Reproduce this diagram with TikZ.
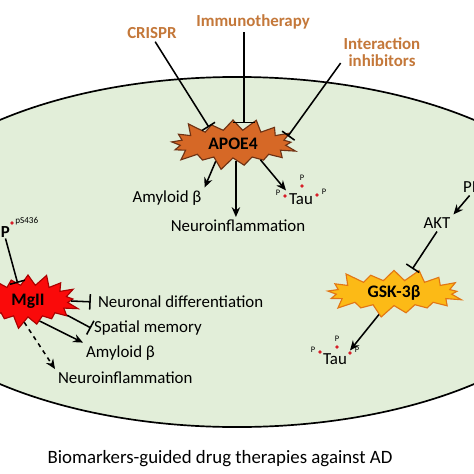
\documentclass[tikz,border=0pt]{standalone}
\usepackage{fontspec}
\setmainfont{Carlito}
\usetikzlibrary{positioning,shapes.symbols,arrows.meta}

\definecolor{cellgreen}{RGB}{226,238,217}
\definecolor{drugbrown}{RGB}{196,120,58}
\definecolor{apoeorange}{RGB}{214,104,38}
\definecolor{apoeline}{RGB}{110,50,20}
\definecolor{mgred}{RGB}{250,10,10}
\definecolor{mgline}{RGB}{170,0,0}
\definecolor{gskyellow}{RGB}{252,186,22}
\definecolor{gskline}{RGB}{226,118,20}
\definecolor{dotred}{RGB}{215,30,40}

\begin{document}
\begin{tikzpicture}[x=0.025cm, y=-0.025cm, >=Stealth,
    lbl/.style={font=\fontsize{12}{14}\selectfont, inner sep=2pt},
    drug/.style={font=\fontsize{12}{14}\selectfont\bfseries, text=drugbrown, align=center, inner sep=2pt},
    burst/.style={starburst, starburst point height=10pt, line width=0.8pt, inner sep=1pt,
        font=\fontsize{12.5}{14}\selectfont\bfseries},
    act/.style={-{Stealth[length=7pt,width=6pt]}, line width=1.1pt},
    inh/.style={-{Bar[width=11pt]}, line width=1.1pt},
    pdot/.style={circle, fill=dotred, inner sep=0pt, minimum size=2.6pt},
    ptxt/.style={font=\fontsize{6}{6}\selectfont, inner sep=0pt}]
% Marco y membrana
\path[use as bounding box] (0,0) rectangle (474,474);
\fill[white] (0,0) rectangle (474,474);
\clip (0,0) rectangle (474,474);
\draw[line width=1.2pt, fill=cellgreen] (237,252) ellipse [x radius=9.025cm, y radius=4.375cm];

% Terapias
\node (crispr) [drug] at (152,33) {CRISPR};
\node (immuno) [drug] at (253,22) {Immunotherapy};
\node (inter) [drug] at (382,52) {Interaction\\[-2pt]inhibitors};

% Focos
\node (apoe) [burst, fill=apoeorange, draw=apoeline, minimum width=3.35cm, minimum height=1.4cm] at (233,144) {APOE4};
\node (mgii) [burst, fill=mgred, draw=mgline, minimum width=2.7cm, minimum height=1.5cm] at (28,301) {MgII};
\node (gsk) [burst, fill=gskyellow, draw=gskline, minimum width=3.6cm, minimum height=1.3cm] at (394,293) {GSK-3β};

% Salidas de APOE4
\node (amy1) [lbl] at (167,198) {Amyloid β};
\node (neuro1) [lbl] at (238,226) {Neuroinflammation};
\node (tau1) [lbl] at (301,199) {Tau};
\node (tau1l) [pdot] at (285,196) {};
\node (tau1t) [pdot] at (302,186) {};
\node (tau1r) [pdot] at (317,195) {};
\node [ptxt] at (278,193) {P};
\node [ptxt] at (302,178) {P};
\node [ptxt] at (324,192) {P};

% Rama MgII
\node (pp) [lbl, font=\fontsize{12}{14}\selectfont\bfseries, anchor=west, inner sep=0.5pt] at (0,232) {P};
\node (ppdot) [pdot] at (12,223) {};
\node (pplbl) [ptxt, font=\fontsize{6.5}{7}\selectfont, anchor=west] at (15,221) {pS436};
\node (ndiff) [lbl, anchor=west] at (95,302) {Neuronal differentiation};
\node (spatial) [lbl, anchor=west] at (91,328) {Spatial memory};
\node (amy2) [lbl, anchor=west] at (83,353) {Amyloid β};
\node (neuro2) [lbl, anchor=west] at (55,378) {Neuroinflammation};

% Rama GSK-3b
\node (pi) [lbl, anchor=west] at (460,187) {PI};
\node (akt) [lbl] at (437,223) {AKT};
\node (tau2) [lbl] at (335,359) {Tau};
\node (tau2l) [pdot] at (320,352) {};
\node (tau2t) [pdot] at (337,347) {};
\node (tau2r) [pdot] at (350,353) {};
\node [ptxt] at (313,350) {P};
\node [ptxt] at (337,339) {P};
\node [ptxt] at (357,350) {P};

\node (caption) [lbl, font=\fontsize{13.4}{15}\selectfont] at (220,459) {Biomarkers-guided drug therapies against AD};

% Inhibiciones sobre APOE4
\draw [inh] (crispr.-70) -- (apoe.145);
\draw [inh, -{Bar[width=15pt]}, shorten >=-3pt] ([xshift=-0.225cm]immuno.south) -- ([xshift=-0.225cm]immuno.south |- apoe.north);
\draw [inh] (inter.195) -- (apoe.8);

% Efectos de APOE4
\draw [act] (apoe.-135) -- (amy1.north east);
\draw [act] (apoe.-80) -- (apoe.-80 |- neuro1.north);
\draw [act] (apoe.-30) -- (tau1.north west);

% MgII
\draw [inh] (pp.south) -- (mgii.120);
\draw [inh, shorten >=3pt] (mgii.east) -- (ndiff.west);
\draw [inh] (mgii.-20) -- (spatial.west);
\draw [act] (mgii.-60) -- (amy2.north west);
\draw [act, dashed] (mgii.-100) -- (neuro2.north west);

% PI - AKT - GSK-3b
\draw [act] (pi.south) -- (akt.north east);
\draw [inh, shorten >=9pt] (akt.south) -- (gsk.50);
\draw [act] (gsk.-125) -- (tau2.north east);
\end{tikzpicture}
\end{document}
